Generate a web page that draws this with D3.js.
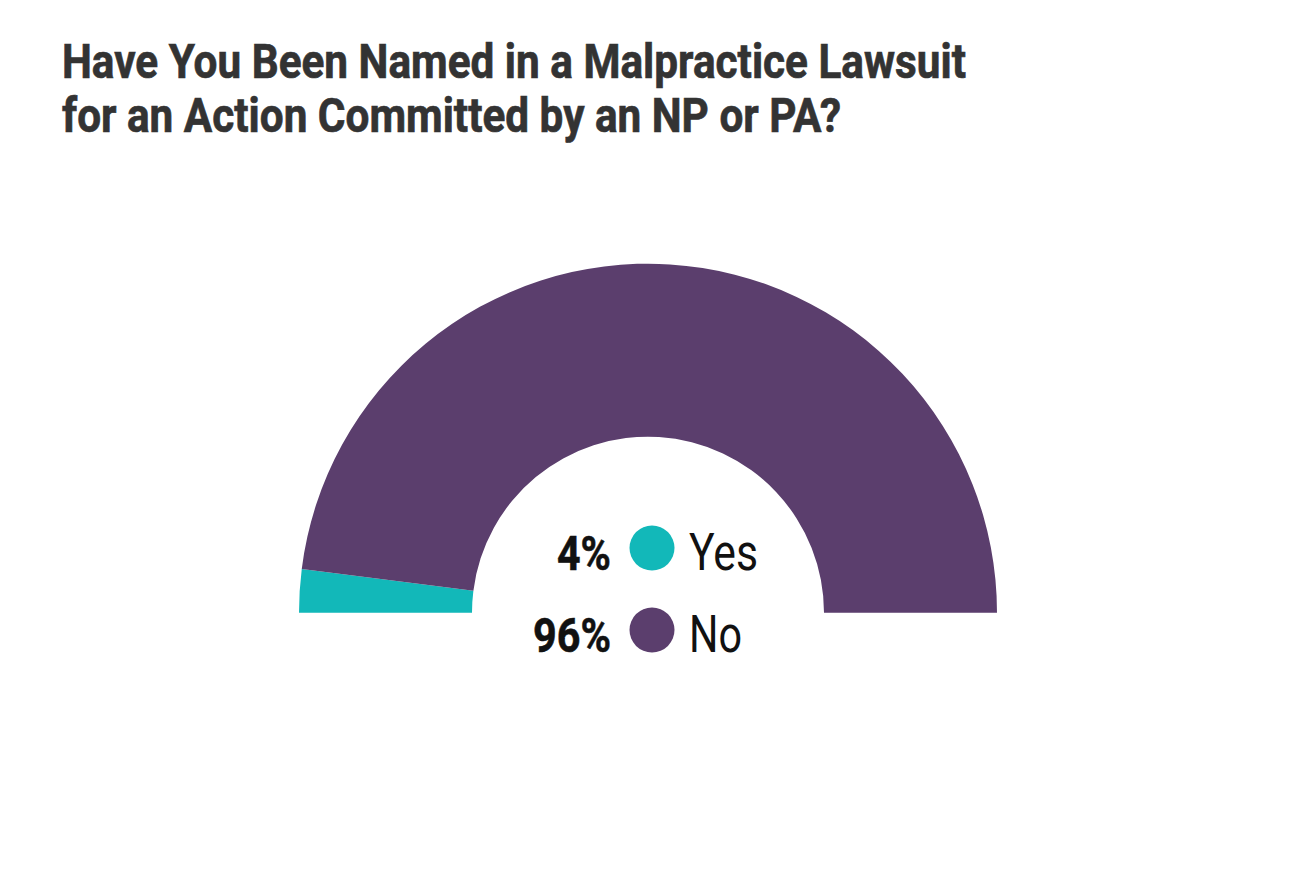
<!DOCTYPE html>
<html>
<head>
<meta charset="utf-8">
<script src="https://cdn.jsdelivr.net/npm/d3@7"></script>
<style>
    html, body { margin: 0; padding: 0; background: #ffffff; }
    svg { display: block; }
</style>
</head>
<body>
<svg id="chart" width="1290" height="878"></svg>
<script>
// Survey answers
const categories = ["Yes", "No"];
const values = [4, 96];
const colors = ["#12b8b9", "#5b3e6d"];
const titleLines = [
    "Have You Been Named in a Malpractice Lawsuit",
    "for an Action Committed by an NP or PA?"
];

const width = 1290, height = 878;
const cx = 648, cy = 612.7;
const outerR = 349, innerR = 176;

const svg = d3.select("#chart");

// Title (condensed look via textLength)
const titleWidths = [904, 779];
svg.selectAll(".title")
    .data(titleLines)
    .enter().append("text")
    .attr("class", "title")
    .attr("x", 62)
    .attr("y", (d, i) => 77.5 + i * 54.5)
    .attr("textLength", (d, i) => titleWidths[i])
    .attr("lengthAdjust", "spacingAndGlyphs")
    .style("font-family", "Roboto, sans-serif")
    .style("font-weight", "700")
    .style("font-size", "49px")
    .style("fill", "#333333")
    .style("stroke", "#333333")
    .style("stroke-width", "0.7px")
    .text(d => d);

// Half donut
const pie = d3.pie()
    .sort(null)
    .startAngle(-Math.PI / 2)
    .endAngle(Math.PI / 2)
    .value(d => d);

const arc = d3.arc()
    .innerRadius(innerR)
    .outerRadius(outerR);

const g = svg.append("g")
    .attr("transform", `translate(${cx},${cy})`);

g.selectAll(".slice")
    .data(pie(values))
    .enter().append("path")
    .attr("class", "slice")
    .attr("d", arc)
    .style("fill", (d, i) => colors[i]);

// Legend in the hole
const rowY = d3.scalePoint()
    .domain(categories)
    .range([548, 630]);

const legend = svg.selectAll(".legend")
    .data(categories)
    .enter().append("g")
    .attr("class", "legend")
    .attr("transform", d => `translate(0,${rowY(d)})`);

legend.append("circle")
    .attr("cx", 652)
    .attr("cy", 0)
    .attr("r", 22.5)
    .style("fill", (d, i) => colors[i]);

const pctWidths = [54, 78];
legend.append("text")
    .attr("x", 611)
    .attr("y", 22)
    .attr("text-anchor", "end")
    .attr("textLength", (d, i) => pctWidths[i])
    .attr("lengthAdjust", "spacingAndGlyphs")
    .style("font-family", "Roboto, sans-serif")
    .style("font-weight", "700")
    .style("font-size", "49px")
    .style("fill", "#111111")
    .style("stroke", "#111111")
    .style("stroke-width", "0.6px")
    .text((d, i) => values[i] + "%");

const labelWidths = [69, 53];
legend.append("text")
    .attr("x", 689)
    .attr("y", 22)
    .attr("textLength", (d, i) => labelWidths[i])
    .attr("lengthAdjust", "spacingAndGlyphs")
    .style("font-family", "Roboto, sans-serif")
    .style("font-weight", "400")
    .style("font-size", "52px")
    .style("fill", "#111111")
    .text(d => d);
</script>
</body>
</html>
